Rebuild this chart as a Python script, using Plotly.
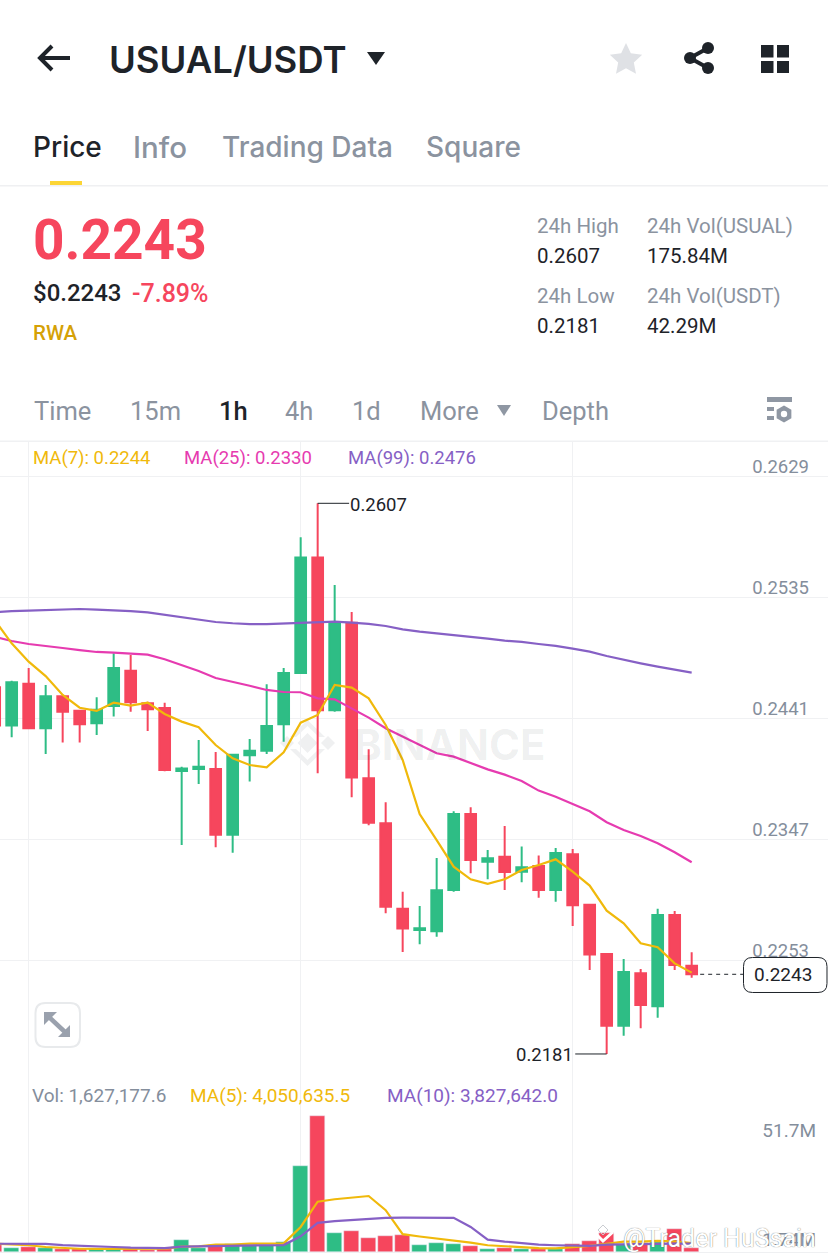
import math

import plotly.graph_objects as go
from plotly.subplots import make_subplots

W, H = 828, 1259

GREEN = "#2ebd85"
RED = "#f6465d"
YELLOW = "#f0b90b"
PINK = "#e63bb0"
PURPLE = "#8660c5"
DARK = "#1e2329"
GREY = "#848e9c"
TAB_GREY = "#8b939f"
GRID = "#f0f1f3"
TEXT_FONT = "Roboto"
HEAD_FONT = "Inter"

# Candles, oldest first (price)
opens = [
    0.24648, 0.24351, 0.24677, 0.24330, 0.24579, 0.24467, 0.24369, 0.24503, 0.24778, 0.24524, 0.24488,
    0.23998, 0.24014, 0.24014, 0.23504, 0.24120, 0.24156, 0.24361, 0.24760, 0.25656, 0.24470, 0.25151,
    0.23942, 0.23592, 0.22929, 0.22763, 0.22753, 0.23074, 0.23664, 0.23294, 0.23333, 0.23216,
    0.23260, 0.23074, 0.23351, 0.22960, 0.22577, 0.22020, 0.22427, 0.22170, 0.22880, 0.22486,
]
highs = [
    0.24680, 0.24700, 0.24799, 0.24667, 0.24579, 0.24467, 0.24571, 0.24913, 0.24900, 0.24537, 0.24529,
    0.24032, 0.24239, 0.24146, 0.24125, 0.24247, 0.24672, 0.24799, 0.25814, 0.26078, 0.25443, 0.25234,
    0.24167, 0.23755, 0.23061, 0.22950, 0.23323, 0.23685, 0.23716, 0.23385, 0.23571, 0.23411,
    0.23341, 0.23400, 0.23392, 0.22960, 0.22577, 0.22538, 0.22460, 0.22929, 0.22911, 0.22590,
]
lows = [
    0.24343, 0.24260, 0.24322, 0.24130, 0.24219, 0.24219, 0.24278, 0.24421, 0.24459, 0.24309, 0.23996,
    0.23424, 0.23897, 0.23405, 0.23364, 0.23916, 0.24130, 0.24226, 0.24752, 0.23980, 0.24459, 0.23794,
    0.23576, 0.22893, 0.22592, 0.22652, 0.22711, 0.23061, 0.23203, 0.23157, 0.23074, 0.23134,
    0.23014, 0.22983, 0.22794, 0.22452, 0.21800, 0.21942, 0.21999, 0.22082, 0.22452, 0.22393,
]
closes = [
    0.24351, 0.24687, 0.24330, 0.24579, 0.24459, 0.24361, 0.24475, 0.24799, 0.24532, 0.24478, 0.24006,
    0.24017, 0.24032, 0.23504, 0.24125, 0.24156, 0.24348, 0.24760, 0.25656, 0.24470, 0.25140, 0.23947,
    0.23597, 0.22944, 0.22774, 0.22776, 0.23071, 0.23664, 0.23307, 0.23320, 0.23214, 0.23250,
    0.23074, 0.23361, 0.22955, 0.22572, 0.22020, 0.22437, 0.22181, 0.22880, 0.22491, 0.22419,
]

ma7 = [
    0.25172, 0.24990, 0.24848, 0.24736, 0.24589, 0.24490, 0.24465, 0.24529, 0.24506, 0.24529, 0.24441,
    0.24382, 0.24338, 0.24200, 0.24097, 0.24045, 0.24027, 0.24143, 0.24374, 0.24434, 0.24667, 0.24646,
    0.24563, 0.24356, 0.24084, 0.23664, 0.23462, 0.23255, 0.23157, 0.23121, 0.23157, 0.23229,
    0.23268, 0.23312, 0.23216, 0.23108, 0.22913, 0.22815, 0.22660, 0.22629, 0.22504, 0.22432,
]
ma25 = [
    0.25042, 0.25008, 0.24985, 0.24972, 0.24954, 0.24938, 0.24923, 0.24918, 0.24910, 0.24902, 0.24866,
    0.24822, 0.24775, 0.24721, 0.24692, 0.24661, 0.24628, 0.24612, 0.24610, 0.24563, 0.24555, 0.24485,
    0.24413, 0.24330, 0.24265, 0.24200, 0.24136, 0.24110, 0.24058, 0.24011, 0.23970, 0.23921,
    0.23846, 0.23799, 0.23742, 0.23685, 0.23600, 0.23540, 0.23494, 0.23437, 0.23367, 0.23289,
]
ma99 = [
    0.25231, 0.25241, 0.25244, 0.25249, 0.25254, 0.25257, 0.25252, 0.25249, 0.25241, 0.25231, 0.25213,
    0.25195, 0.25177, 0.25156, 0.25146, 0.25140, 0.25140, 0.25146, 0.25151, 0.25154, 0.25159, 0.25151,
    0.25141, 0.25125, 0.25099, 0.25081, 0.25068, 0.25058, 0.25042, 0.25027, 0.25011, 0.25001,
    0.24985, 0.24970, 0.24949, 0.24926, 0.24892, 0.24861, 0.24835, 0.24809, 0.24786, 0.24762,
]

# Volume in millions
volume = [
    3.1, 1.7, 2.2, 2.0, 1.4, 1.5, 1.4, 1.4, 1.4, 1.1, 1.4,
    5.7, 1.8, 3.1, 3.8, 3.1, 3.4, 4.6, 39.5, 62.6, 8.9, 9.8,
    6.6, 7.4, 8.0, 3.4, 4.0, 3.5, 2.8, 1.4, 1.8, 1.4,
    1.4, 1.4, 3.8, 4.9, 8.5, 3.8, 4.3, 4.6, 10.6, 1.63,
]
vol_ma5 = [
    3.8, 3.5, 3.1, 2.3, 1.8, 1.5, 1.4, 1.4, 1.5, 1.5, 1.5,
    2.5, 2.6, 3.4, 3.4, 3.8, 3.8, 4.0, 11.5, 23.1, 24.2, 25.1,
    25.7, 19.2, 8.2, 7.1, 6.2, 5.2, 4.3, 3.1, 2.6, 2.0,
    1.8, 1.7, 2.3, 2.8, 3.8, 4.8, 4.8, 5.1, 4.9, 4.05,
]
vol_ma10 = [
    3.8, 3.8, 3.8, 3.7, 3.2, 2.8, 2.6, 2.3, 2.0, 1.8, 1.8,
    2.5, 2.6, 2.8, 2.9, 2.9, 3.1, 3.2, 7.2, 13.4, 14.2, 14.8,
    15.2, 15.7, 15.8, 15.8, 15.8, 15.7, 11.5, 5.7, 4.8, 4.0,
    3.4, 3.1, 2.9, 2.8, 3.4, 3.4, 3.5, 3.7, 3.8, 3.83,
]

price_ticks = [0.2629, 0.2535, 0.2441, 0.2347, 0.2253, 0.2159]
price_tick_labels = ["0.2629", "0.2535", "0.2441", "0.2347", "0.2253", "0.2159"]
vol_ticks = [51.7, 1.74]
vol_tick_labels = ["51.7M", "1.74M"]
time_ticks = [2, 18, 34]

x = list(range(len(closes)))
high_i, low_i = highs.index(max(highs)), lows.index(min(lows))
last_price = closes[-1]
bar_colors = [GREEN if c >= o else RED for o, c in zip(opens, closes)]


# --- Page furniture helpers (pixel positions on the screenshot) ---

def px(xp, yp):
    return f"{xp / W:.5f},{1 - yp / H:.5f}"


def poly(points, close=True):
    d = "M" + " L".join(px(a, b) for a, b in points)
    return d + (" Z" if close else "")


def round_rect(x0, y0, x1, y1, r):
    return (
        f"M{px(x0 + r, y0)} L{px(x1 - r, y0)} Q{px(x1, y0)} {px(x1, y0 + r)} "
        f"L{px(x1, y1 - r)} Q{px(x1, y1)} {px(x1 - r, y1)} L{px(x0 + r, y1)} "
        f"Q{px(x0, y1)} {px(x0, y1 - r)} L{px(x0, y0 + r)} Q{px(x0, y0)} {px(x0 + r, y0)} Z"
    )


def fill_shape(d, color, layer="above"):
    return dict(type="path", xref="paper", yref="paper", path=d, fillcolor=color, line_width=0, layer=layer)


def line_shape(d, color, width):
    return dict(type="path", xref="paper", yref="paper", path=d, line=dict(color=color, width=width))


def circle(cx, cy, r, color):
    return dict(type="circle", xref="paper", yref="paper", x0=(cx - r) / W, x1=(cx + r) / W,
                y0=1 - (cy + r) / H, y1=1 - (cy - r) / H, fillcolor=color, line_width=0)


def rect(x0, y0, x1, y1, color):
    return fill_shape(poly([(x0, y0), (x1, y0), (x1, y1), (x0, y1)]), color)


def label(text, xp, yp, size, color, weight=400, family=TEXT_FONT, anchor="left"):
    # left-anchored text lands about 1.5px right of where it is asked to be
    if anchor == "left":
        xp -= 1.5
    return dict(text=text, x=xp / W, y=1 - yp / H, xref="paper", yref="paper", showarrow=False,
                xanchor=anchor, yanchor="middle", borderpad=0,
                font=dict(family=family, size=size, color=color, weight=weight))


fig = make_subplots(rows=2, cols=1, shared_xaxes=True, vertical_spacing=0)

fig.add_trace(
    go.Candlestick(
        x=x, open=opens, high=highs, low=lows, close=closes,
        whiskerwidth=0,
        increasing=dict(line=dict(color=GREEN, width=2), fillcolor=GREEN),
        decreasing=dict(line=dict(color=RED, width=2), fillcolor=RED),
        hoverinfo="skip",
    ),
    row=1, col=1,
)
for series, color in [(ma99, PURPLE), (ma25, PINK), (ma7, YELLOW)]:
    fig.add_trace(go.Scatter(x=x, y=series, mode="lines", line=dict(color=color, width=2.2), hoverinfo="skip"),
                  row=1, col=1)

fig.add_trace(go.Bar(x=x, y=volume, marker_color=bar_colors, width=0.88, hoverinfo="skip"), row=2, col=1)
for series, color in [(vol_ma5, YELLOW), (vol_ma10, PURPLE)]:
    fig.add_trace(go.Scatter(x=x, y=series, mode="lines", line=dict(color=color, width=2.2), hoverinfo="skip"),
                  row=2, col=1)

# --- Header ---
shapes = [
    line_shape(poly([(70, 58), (40, 58)], close=False), DARK, 4),
    line_shape(poly([(52, 46), (40, 58), (52, 70)], close=False), DARK, 4),
    fill_shape(poly([(367, 52), (385, 52), (376, 65)]), DARK),
    fill_shape(poly([(50, 181), (82, 181), (82, 186), (50, 186)]), "#fcd535"),
    rect(0, 185, W, 186.5, "#eff0f2"),
    fill_shape(poly([(497, 405), (511, 405), (504, 416)]), "#8f97a3"),
]
star = []
for k in range(10):
    r = 17 if k % 2 == 0 else 8.2
    a = math.pi * k / 5
    star.append((626 + r * math.sin(a), 60 - r * math.cos(a)))
shapes.append(fill_shape(poly(star), "#dfe1e5"))
shapes += [
    line_shape(poly([(708, 48), (690, 58), (708, 68)], close=False), DARK, 4),
    circle(690, 58, 6, DARK), circle(708, 48, 6, DARK), circle(708, 68, 6, DARK),
    rect(761, 45, 773.5, 57.5, DARK), rect(777, 45, 789, 57.5, DARK),
    rect(761, 61, 773.5, 73, DARK), rect(777, 61, 789, 73, DARK),
    # layout icon next to Depth
    rect(767, 397, 792, 402, "#8f97a3"), rect(767, 407, 774, 411, "#8f97a3"), rect(767, 416, 774, 420, "#8f97a3"),
]
hexagon = [(784 + 8.5 * math.sin(math.pi * k / 3), 414 + 8.5 * math.cos(math.pi * k / 3)) for k in range(6)]
shapes += [fill_shape(poly(hexagon), "#8f97a3"), circle(784, 414, 3.2, "white")]

# --- Chart chrome ---
shapes += [
    rect(0, 440.5, W, 442, GRID),
    # Binance watermark logo, under the candles
    fill_shape(poly([(307.5, 733), (317.5, 743), (307.5, 753), (297.5, 743)]), "#eff0f1", "below"),
    fill_shape(poly([(328, 736), (335, 743), (328, 750), (321, 743)]), "#eff0f1", "below"),
    fill_shape(poly([(287, 736), (294, 743), (287, 750), (280, 743)]), "#eff0f1", "below"),
    fill_shape(poly([(307.5, 720), (325, 737), (319, 737), (307.5, 726), (296, 737), (290, 737)]), "#eff0f1", "below"),
    fill_shape(poly([(307.5, 766), (325, 749), (319, 749), (307.5, 760), (296, 749), (290, 749)]), "#eff0f1", "below"),
    # high / low markers and last price
    dict(type="line", xref="x", yref="y", x0=high_i, x1=high_i + 1.85, y0=highs[high_i], y1=highs[high_i],
         line=dict(color=DARK, width=1)),
    dict(type="line", xref="x", yref="y", x0=low_i, x1=low_i - 1.85, y0=lows[low_i], y1=lows[low_i],
         line=dict(color=DARK, width=1)),
    dict(type="line", xref="x", yref="y", x0=len(x) - 0.5, x1=44.05, y0=last_price, y1=last_price,
         line=dict(color=DARK, width=1, dash="4px,4px")),
    dict(type="path", xref="paper", yref="paper", path=round_rect(743.5, 957.5, 827, 992.5, 9),
         fillcolor="white", line=dict(color=DARK, width=1)),
    # expand button
    dict(type="path", xref="paper", yref="paper", path=round_rect(35.5, 1003, 80, 1047, 10),
         fillcolor="white", line=dict(color="#e8eaec", width=2)),
    fill_shape(poly([(44, 1012), (57, 1012), (44, 1025)]), "#9aa1ad"),
    fill_shape(poly([(70, 1025), (70, 1037), (58, 1037)]), "#9aa1ad"),
    line_shape(poly([(49, 1017), (65, 1032)], close=False), "#9aa1ad", 4.5),
    # small logo in front of the bottom watermark
    line_shape(poly([(595, 1233), (603, 1241), (613, 1232)], close=False), "white", 3),
    line_shape(poly([(598, 1230), (603, 1225), (608, 1230), (603, 1235)]), "#c9ccd1", 1),
]

annotations = [
    label("USUAL/USDT", 109, 60, 36.5, DARK, 600, HEAD_FONT),
    label("Price", 33, 147, 28, DARK, 500, HEAD_FONT),
    label("Info", 133, 147, 29.5, TAB_GREY, 500, HEAD_FONT),
    label("Trading Data", 222, 147, 28, TAB_GREY, 500, HEAD_FONT),
    label("Square", 427, 147, 28, TAB_GREY, 500, HEAD_FONT),
    label("0.2243", 33, 240, 55, RED, 700),
    label("$0.2243", 33, 293, 24, DARK, 500),
    label("-7.89%", 132, 293, 25, RED, 500),
    label("RWA", 33, 333, 20.5, "#d5a106", 500),
    label("24h High", 537, 226, 20.5, TAB_GREY),
    label("0.2607", 537, 256, 20.5, DARK),
    label("24h Low", 537, 296, 20.5, TAB_GREY),
    label("0.2181", 537, 326, 20.5, DARK),
    label("24h Vol(USUAL)", 647, 226, 20.5, TAB_GREY),
    label("175.84M", 647, 256, 20.5, DARK),
    label("24h Vol(USDT)", 647, 296, 20.5, TAB_GREY),
    label("42.29M", 647, 326, 20.5, DARK),
    label("Time", 34, 411, 25.5, TAB_GREY),
    label("15m", 130, 411, 25.5, TAB_GREY),
    label("1h", 219, 411, 25.5, DARK, 500),
    label("4h", 285, 411, 25.5, TAB_GREY),
    label("1d", 352, 411, 25.5, TAB_GREY),
    label("More", 420, 411, 25.5, TAB_GREY),
    label("Depth", 542, 411, 25.5, TAB_GREY),
    label("MA(7): 0.2244", 33, 458, 18.5, YELLOW),
    label("MA(25): 0.2330", 184, 458, 18.5, PINK),
    label("MA(99): 0.2476", 348, 458, 18.5, PURPLE),
    label("Vol: 1,627,177.6", 32, 1095, 19, GREY),
    label("MA(5): 4,050,635.5", 190, 1095, 19, YELLOW),
    label("MA(10): 3,827,642.0", 387, 1095, 19, PURPLE),
    label("BINANCE", 547, 744, 42, "rgba(30,35,41,0.07)", 700, HEAD_FONT, "right"),
    label("0.2243", 783, 975, 19, DARK, 400, TEXT_FONT, "center"),
    dict(text="0.2607", x=high_i + 1.85, y=highs[high_i], xref="x", yref="y", xanchor="left", yanchor="middle",
         yshift=-1.5, showarrow=False, borderpad=0, font=dict(family=TEXT_FONT, size=18.5, color=DARK)),
    dict(text="0.2181", x=low_i - 1.9, y=lows[low_i], xref="x", yref="y", xanchor="right", yanchor="middle",
         yshift=-1.5, showarrow=False, borderpad=0, font=dict(family=TEXT_FONT, size=18.5, color=DARK)),
    dict(text="@Trader HuSsain", x=622 / W, y=1 - 1238 / H, xref="paper", yref="paper", xanchor="left",
         yanchor="middle", showarrow=False, borderpad=0,
         font=dict(family=TEXT_FONT, size=25, color="white", shadow="0 0 1px #555")),
]

fig.update_layout(
    width=W, height=H,
    margin=dict(l=0, r=0, t=0, b=0),
    paper_bgcolor="white",
    plot_bgcolor="white",
    showlegend=False,
    hovermode=False,
    boxgap=0.1,
    bargap=0,
    shapes=shapes,
    annotations=annotations,
)

axis_range = [5.33 / 17, (W + 5.33) / 17]
fig.update_xaxes(range=axis_range, tickvals=time_ticks, showticklabels=False, ticks="", zeroline=False,
                 showgrid=True, gridcolor=GRID, gridwidth=1, rangeslider_visible=False)
fig.update_xaxes(showline=True, linecolor="#eff0f2", linewidth=1, row=2, col=1)
fig.update_yaxes(side="right", ticks="", zeroline=False, ticklabelposition="inside top", showline=False)
fig.update_yaxes(range=[0.2159, 0.26562], domain=[1 - 1081 / H, 1 - 441 / H],
                 tickvals=price_ticks, ticktext=price_tick_labels, showgrid=True, gridcolor=GRID, gridwidth=1,
                 tickfont=dict(family=TEXT_FONT, size=18.5, color=GREY), ticklabelstandoff=16, ticklabelshift=3,
                 row=1, col=1)
fig.update_yaxes(range=[0, 78.5], domain=[1 - 1252 / H, 1 - 1081 / H],
                 tickvals=vol_ticks, ticktext=vol_tick_labels, showgrid=False,
                 tickfont=dict(family=TEXT_FONT, size=19, color=GREY), ticklabelstandoff=9, ticklabelshift=4,
                 row=2, col=1)

fig.write_html("out.html", config=dict(displayModeBar=False), post_script="document.body.style.margin='0';")
